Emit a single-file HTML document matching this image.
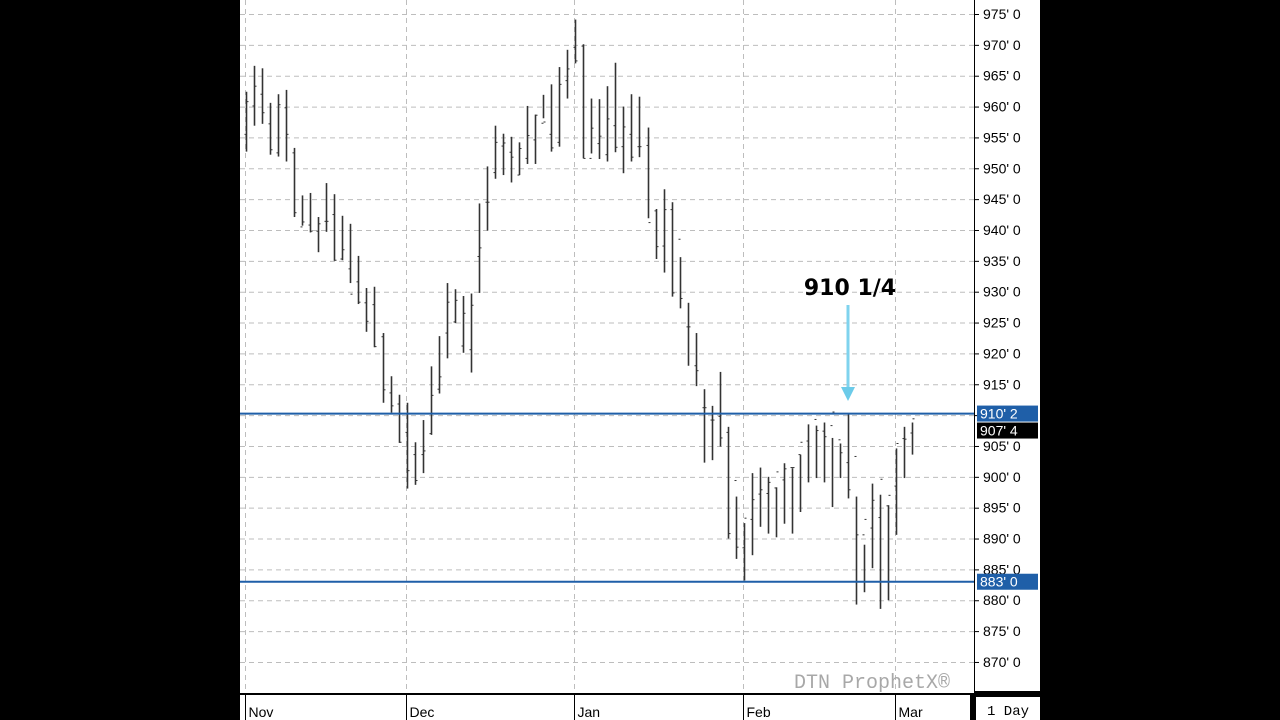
<!DOCTYPE html>
<html><head><meta charset="utf-8"><style>
html,body{margin:0;padding:0;background:#000;width:1280px;height:720px;overflow:hidden}
svg{display:block}
</style></head><body>
<svg id="chart" width="1280" height="720" xmlns="http://www.w3.org/2000/svg" font-family="Liberation Sans, sans-serif">
<rect x="0" y="0" width="1280" height="720" fill="#000"/>
<rect x="240" y="0" width="734" height="693" fill="#fff"/>
<rect x="974" y="0" width="66" height="691" fill="#fff"/>
<rect x="240" y="695" width="730" height="25" fill="#fff"/>
<rect x="976" y="697" width="64" height="23" fill="#fff"/>
<text x="1008" y="715" font-size="14" text-anchor="middle" font-family="Liberation Mono, monospace" fill="#000">1 Day</text>
<line x1="974.5" y1="0" x2="974.5" y2="691" stroke="#000"/>
<g id="grid"></g>
<g id="yaxis"></g>
<g id="xaxis"></g>
<g id="bars"></g>
<g id="levels"></g>
<text x="872" y="688" font-size="20" text-anchor="middle" font-family="Liberation Mono, monospace" fill="#a8a8a8">DTN ProphetX®</text>
<text x="850" y="295" font-size="22" font-weight="bold" text-anchor="middle" font-family="DejaVu Sans, sans-serif" fill="#000">910 1/4</text>
<line x1="848" y1="305" x2="848" y2="388" stroke="#7fd3ee" stroke-width="3"/>
<polygon points="841,387 855,387 848,401" fill="#6ccbe9"/>
</svg>
<script>
const highs=[962.4,966.6,966.2,960.6,962,962.7,953.3,945.6,946,942.1,947.6,945.8,942.3,941,935.8,930.6,930.8,923.3,916.3,913.3,912,905.6,909.2,917.9,922.8,931.4,930.4,929.3,929.7,944.3,950.3,956.9,955.6,955.1,954.2,960.1,958.7,961.9,963.6,966.4,969.2,974.1,970.1,961.3,961.2,963.3,967.1,960,962,961.6,956.6,943.4,946.6,944.5,935.6,928.2,923.3,914.2,911.5,917,908.1,896.8,892.5,900.6,901.5,900,898.3,902.2,901.4,903.6,908.5,908.3,908.8,906.3,905.4,910.3,896.8,889,898.9,897.1,895.4,904.6,908.1,908.8];
const lows=[952.7,956.9,957.2,952.2,951.9,951.1,942.1,940.7,939.6,936.4,939.7,935,935.1,931.4,928,923.5,921,912,910.4,905.5,898.1,898.7,900.6,906.8,913.5,919.2,924.9,920.1,916.9,929.8,939.9,948.3,948.9,947.7,948.9,950.7,950.7,958.1,952.7,953.5,961.3,967,951.6,952.4,951.5,951.1,952.6,949.2,951.1,951.8,941.9,935.3,933.1,929.2,927.3,918,914.7,902.3,902.7,904.9,890,886.7,883.2,887.3,891.9,890.8,890.2,892.4,890.8,894.3,899.1,899.8,899.1,895.1,899.8,896.5,879.3,881.3,885.2,878.6,880,890.6,899.8,903.6];
const opens=[955.5,960.1,962,957.2,952.5,959.8,952.5,940.5,940.8,939.8,941.4,942.5,935.3,933.7,931.6,928.2,927.9,922.7,913.6,911.8,907.2,903.6,903.6,907,914.2,923.3,925.1,921.2,920.6,935.7,944.5,949.3,953.6,952.6,948.9,951.6,954.6,957.3,955.5,954.2,964.2,969.6,969.8,951.6,954,952.2,956.9,953.5,955.5,953.5,953.7,943.1,937.4,943.3,938.5,924.3,918,911.2,909.2,909.8,907.2,899.4,888.5,893.1,897.2,897.3,898.2,899.5,901.5,903.6,905.8,909.3,907.4,908.3,906,902.3,903.3,890.6,891.7,893.4,895.3,898.5,906.2,907.1];
const closes=[960.8,963.3,959,953,960.3,955.5,942.8,941.3,939.8,941,941.4,935.1,936.8,929.6,928.3,925.2,921.1,914.1,911.5,905.6,901,899.4,904.2,913.2,916.2,928.3,928.6,926.5,927.8,937.1,944.5,954.2,954.1,951.8,953.2,955.3,958.6,957.5,953.3,963.6,966.1,967.4,951.6,956.5,955.2,958,953.4,956.7,951.8,953.5,941.2,937.3,943.3,929.8,928.9,924.3,917.2,911.2,909.2,906.3,890.8,888.6,893.3,896.3,897.9,899.1,900.8,901.3,901.5,905.6,910.2,907.5,906.5,910.5,903.9,897.9,890.6,893.1,896.2,899.6,897,905.4,906.1,909.4];
const months=["Nov","Dec","Jan","Feb","Mar"];
const monthIndex=[0,20,41,62,81];
const yTicks=[975,970,965,960,955,950,945,940,935,930,925,920,915,910,905,900,895,890,885,880,875,870];
const levelValues=[910.25,883];
const levelLabels=["910' 2","883' 0"];
const lastValue=907.5;
const lastLabel="907' 4";

const NS="http://www.w3.org/2000/svg";
function y(v){return 14+(975-v)*6.171;}
function x(i){return 246+i*8.03;}
function mk(tag,attrs,parent){const e=document.createElementNS(NS,tag);for(const k in attrs)e.setAttribute(k,attrs[k]);parent.appendChild(e);return e;}
const grid=document.getElementById('grid'),yax=document.getElementById('yaxis'),xax=document.getElementById('xaxis'),bars=document.getElementById('bars'),lv=document.getElementById('levels');
yTicks.forEach(t=>{
  const g=mk('line',{x1:240,x2:974,y1:y(t)+0.5,y2:y(t)+0.5,stroke:'#bdbdbd','stroke-dasharray':'5,4'},grid);
  
  
  const tk=mk('line',{x1:974,x2:979,y1:y(t)+0.5,y2:y(t)+0.5,stroke:'#000'},yax);
  
  
  const tx=mk('text',{x:983,y:y(t)+5,'font-size':14,fill:'#000'},yax);
  tx.textContent=t+"' 0";
  
  
});
months.forEach((m,k)=>{
  const xi=Math.round(x(monthIndex[k]))-0.5;
  const g=mk('line',{x1:xi,x2:xi,y1:0,y2:693,stroke:'#bdbdbd','stroke-dasharray':'5,4'},grid);
  
  
  const s=mk('line',{x1:xi,x2:xi,y1:695,y2:720,stroke:'#000'},xax);
  
  
  const t=mk('text',{x:xi+3,y:717,'font-size':14,fill:'#000'},xax);
  t.textContent=m;
  
  
});
highs.forEach((h,i)=>{
  const xi=Math.round(x(i))+0.5;
  const g=mk('g',{stroke:'#333','stroke-width':1.6},bars);
  
  
  mk('line',{x1:xi,x2:xi,y1:y(h),y2:y(lows[i])},g);
  mk('line',{x1:xi-2,x2:xi,y1:y(opens[i]),y2:y(opens[i]),'stroke-width':1},g);
  mk('line',{x1:xi,x2:xi+2,y1:y(closes[i]),y2:y(closes[i]),'stroke-width':1},g);
});
levelValues.forEach((v,k)=>{
  const l=mk('line',{x1:240,x2:974,y1:y(v),y2:y(v),stroke:'#1f5fa8','stroke-width':2},lv);
  
  
  const r=mk('rect',{x:977,y:y(v)-8,width:61,height:16,fill:'#1f5fa8'},lv);
  
  
  const t=mk('text',{x:980,y:y(v)+5,'font-size':14,fill:'#fff'},lv);
  t.textContent=levelLabels[k];
  
  
});
const lr=mk('rect',{x:977,y:y(lastValue)-8,width:61,height:16,fill:'#000'},lv);


const lt=mk('text',{x:980,y:y(lastValue)+5,'font-size':14,fill:'#fff'},lv);
lt.textContent=lastLabel;


</script>
</body></html>
